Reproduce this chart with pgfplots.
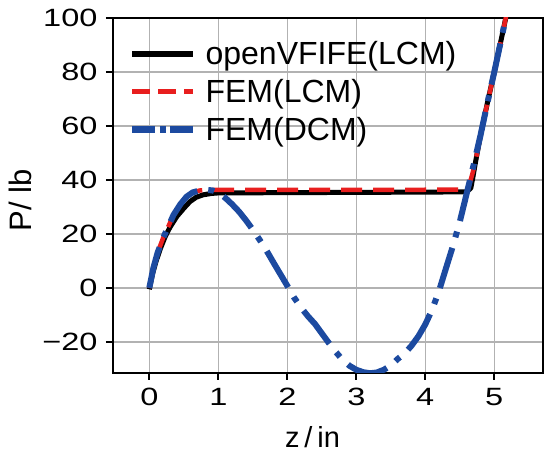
\documentclass[border=0pt]{standalone}
\usepackage{fontspec}
\setmainfont{Liberation Sans}
\newfontfamily\tickfont{Liberation Sans}[FakeStretch=1.3]
\usepackage{pgfplots}
\usepackage{pgfplotstable}
\pgfplotsset{compat=1.18}
\definecolor{myred}{RGB}{232,30,30}
\definecolor{myblue}{RGB}{28,74,160}

\pgfplotstableread{
z P
0 -0.5
0.05 5.5
0.1 10
0.16 14.5
0.23 19
0.3 22.5
0.4 26.5
0.5 29.5
0.59 32
0.68 33.6
0.78 34.5
0.9 35
1.0 35.2
2.0 35.3
3.0 35.4
4.0 35.5
4.6 35.6
4.66 37
4.69 41
4.72 45.5
4.8 56.5
4.9 68.5
5.0 80
5.1 92
5.2 104
}\blackdata

\pgfplotstableread{
z P
0 0
0.06 7.5
0.12 13
0.2 18.5
0.28 23
0.35 27
0.45 31
0.54 33.8
0.63 35.4
0.73 36.1
0.85 36.3
2.0 36.3
4.6 36.4
4.64 38.5
4.68 42
4.72 46
4.8 56.5
4.9 68.5
5.0 80
5.1 92
5.2 104
}\reddata

\pgfplotstableread{
z P
0 0
0.06 7.5
0.12 13
0.2 18.5
0.28 23
0.35 27
0.45 31
0.54 33.8
0.63 35.4
0.73 36.1
0.85 36.3
0.92 36.1
1.0 35.3
1.1 33.4
1.2 31.0
1.3 28.3
1.4 25.1
1.5 21.6
1.6 17.8
1.7 13.8
1.8 9.4
1.9 5.1
2.0 0.8
2.1 -3.6
2.2 -7.3
2.3 -10.5
2.4 -13.3
2.5 -16.8
2.6 -20.3
2.7 -23.6
2.8 -26.6
2.9 -28.8
3.0 -30.3
3.1 -31.2
3.2 -31.6
3.3 -31.3
3.4 -30.3
3.5 -28.7
3.6 -26.3
3.7 -24.3
3.8 -21.4
3.9 -17.9
4.0 -13.5
4.1 -8.0
4.2 -1.0
4.3 7.3
4.4 15.5
4.5 24.5
4.6 35
4.7 45.5
4.8 56.5
4.9 68.5
5.0 80
5.1 92
5.2 104
}\bluedata

\begin{document}
\begin{tikzpicture}
\begin{axis}[
  scale only axis, width=430pt, height=355pt,
  xmin=-0.526, xmax=5.706, ymin=-31.5, ymax=100,
  xtick={0,1,2,3,4,5}, ytick={-20,0,20,40,60,80,100},
  xticklabels={0,1,2,3,4,5},
  yticklabels={−20,0,20,40,60,80,100},
  tick label style={font=\tickfont\fontsize{25}{30}\selectfont},
  yticklabel style={xshift=-5pt},
  xticklabel style={yshift=-5pt},
  grid=major, grid style={color=black!30, line width=1.3pt},
  axis line style={line width=1.8pt},
  tick style={black, line width=1.8pt},
  major tick length=7pt, tick align=outside, tick pos=left,
  xlabel={z\,/\,in},
  xlabel style={font=\fontsize{29}{34}\selectfont, at={(axis description cs:0.464,0)}, anchor=base, yshift=-75pt},
  ylabel={P/ lb},
  ylabel style={font=\fontsize{31}{36}\selectfont, at={(axis description cs:-0.216,0.487)}, anchor=center},
  legend style={at={(axis description cs:0.03,0.945)}, anchor=north west, draw=none, fill=none,
    font=\fontsize{32}{38}\selectfont, row sep=9pt, column sep=7pt},
  legend cell align=left,
]
\addplot[black, line width=5pt, line join=round,
  legend image code/.code={\draw[black, line width=6.5pt] (0pt,0pt) -- (61pt,0pt);}]
  table[x=z,y=P]{\blackdata};
\addlegendentry{openVFIFE(LCM)}
\addplot[myred, line width=4.5pt, dash pattern=on 21pt off 11pt,
  legend image code/.code={\draw[myred, line width=4.7pt, dash pattern=on 18pt off 8pt] (0pt,0pt) -- (61pt,0pt);}]
  table[x=z,y=P]{\reddata};
\addlegendentry{FEM(LCM)}
\addplot[myblue, line width=6pt, dash pattern=on 42pt off 11pt on 6pt off 11pt,
  legend image code/.code={\draw[myblue, line width=6.5pt, dash pattern=on 23pt off 4.5pt on 6pt off 4.5pt] (0pt,0pt) -- (61pt,0pt);}]
  table[x=z,y=P]{\bluedata};
\addlegendentry{FEM(DCM)}
\end{axis}
\pgfresetboundingbox
\useasboundingbox (current axis.south west) ++(-113pt,-86pt) rectangle ([shift={(7pt,18pt)}]current axis.north east);
\end{tikzpicture}
\end{document}
